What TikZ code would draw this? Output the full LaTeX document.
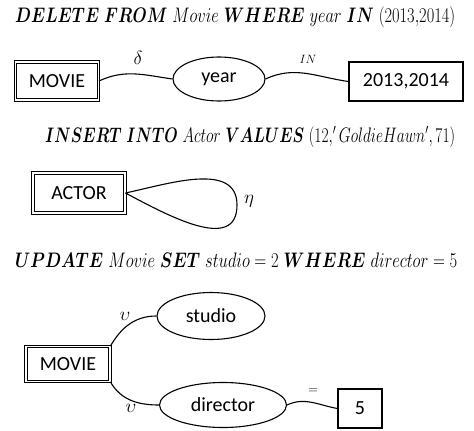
\RequirePackage{fix-cm}
\documentclass[tikz,border=0pt]{standalone}
\usepackage{amsmath}
\usepackage{graphicx}
\usepackage{fontspec}
\newfontfamily\calib{Carlito}
\usetikzlibrary{shapes.geometric}
\newcommand{\fitline}[2]{\resizebox{#1}{\height}{#2}}
\tikzset{
	entity/.style={draw, double, double distance=1.6pt, line width=0.9pt, inner sep=0pt, font=\calib\fontsize{20}{24}\selectfont},
	attr/.style={draw, ellipse, line width=1.1pt, inner sep=0pt, font=\calib\fontsize{20}{24}\selectfont},
	val/.style={draw, rectangle, line width=1.1pt, inner sep=0pt, font=\calib\fontsize{20}{24}\selectfont},
	query/.style={anchor=base west, inner sep=0pt, font=\fontsize{21}{25}\selectfont},
	lbl/.style={inner sep=0pt, font=\fontsize{19}{23}\selectfont},
	link/.style={line width=1.1pt}
}

\begin{document}
\begin{tikzpicture}[x=1pt, y=1pt]
					\useasboundingbox (0,0) rectangle (474,-431);

					% delete
					\node[query] (qdel) at (15,-23) {\fitline{440pt}{$\boldsymbol{DELETE\ FROM}\ Movie\ \boldsymbol{WHERE}\ year\ \boldsymbol{IN}\ (2013{,}2014)$}};
					\node[entity, minimum width=83pt, minimum height=38pt] (movieA) at (57,-81) {MOVIE};
					\node[attr, minimum width=92pt, minimum height=44pt] (year) at (219,-79) {year};
					\node[val, minimum width=114pt, minimum height=39pt] (range) at (406,-81.5) {2013,2014};
					\draw[link] (movieA.east) to[out=25, in=172] (year.west);
					\draw[link] (year.east) to[out=25, in=172] (range.west);
					\node[lbl] (delta) at (138,-58) {$\delta$};
					\node[lbl, font=\fontsize{12}{14}\selectfont] (in) at (308,-59) {$IN$};

					% insert
					\node[query] (qins) at (45,-142) {\fitline{410pt}{$\boldsymbol{INSERT\ INTO}\ Actor\ \boldsymbol{VALUES}\ (12,'GoldieHawn',71)$}};
					\node[entity, minimum width=92pt, minimum height=40pt] (actor) at (79,-193) {ACTOR};
					\coordinate (tip) at (237,-205);
					\draw[link] (actor.east) to[out=12, in=90] (tip) to[out=-90, in=-28, looseness=1.1] (actor.east);
					\node[lbl] (eta) at (249,-201) {$\eta$};

					% update
					\node[query] (qupd) at (15,-267.5) {\fitline{442pt}{$\boldsymbol{UPDATE}\ Movie\ \boldsymbol{SET}\ studio=2\ \boldsymbol{WHERE}\ director=5$}};
					\node[entity, minimum width=84pt, minimum height=35pt] (movieB) at (68,-364) {MOVIE};
					\node[attr, minimum width=108pt, minimum height=47pt] (studio) at (211,-316) {studio};
					\node[attr, minimum width=127pt, minimum height=45pt] (director) at (223,-405) {director};
					\node[val, minimum width=44pt, minimum height=39pt] (five) at (360,-408.5) {5};
					\draw[link] (movieB.north east) to[out=60, in=180] (studio.west);
					\draw[link] (movieB.south east) to[out=-60, in=180] (director.west);
					\draw[link] (director.east) to[out=25, in=170] (five.west);
					\node[lbl] (upsA) at (125,-316) {$\upsilon$};
					\node[lbl] (upsB) at (131,-408) {$\upsilon$};
					\node[lbl, font=\fontsize{13}{15}\selectfont] (eq) at (313,-391) {$=$};

\end{tikzpicture}
\end{document}
